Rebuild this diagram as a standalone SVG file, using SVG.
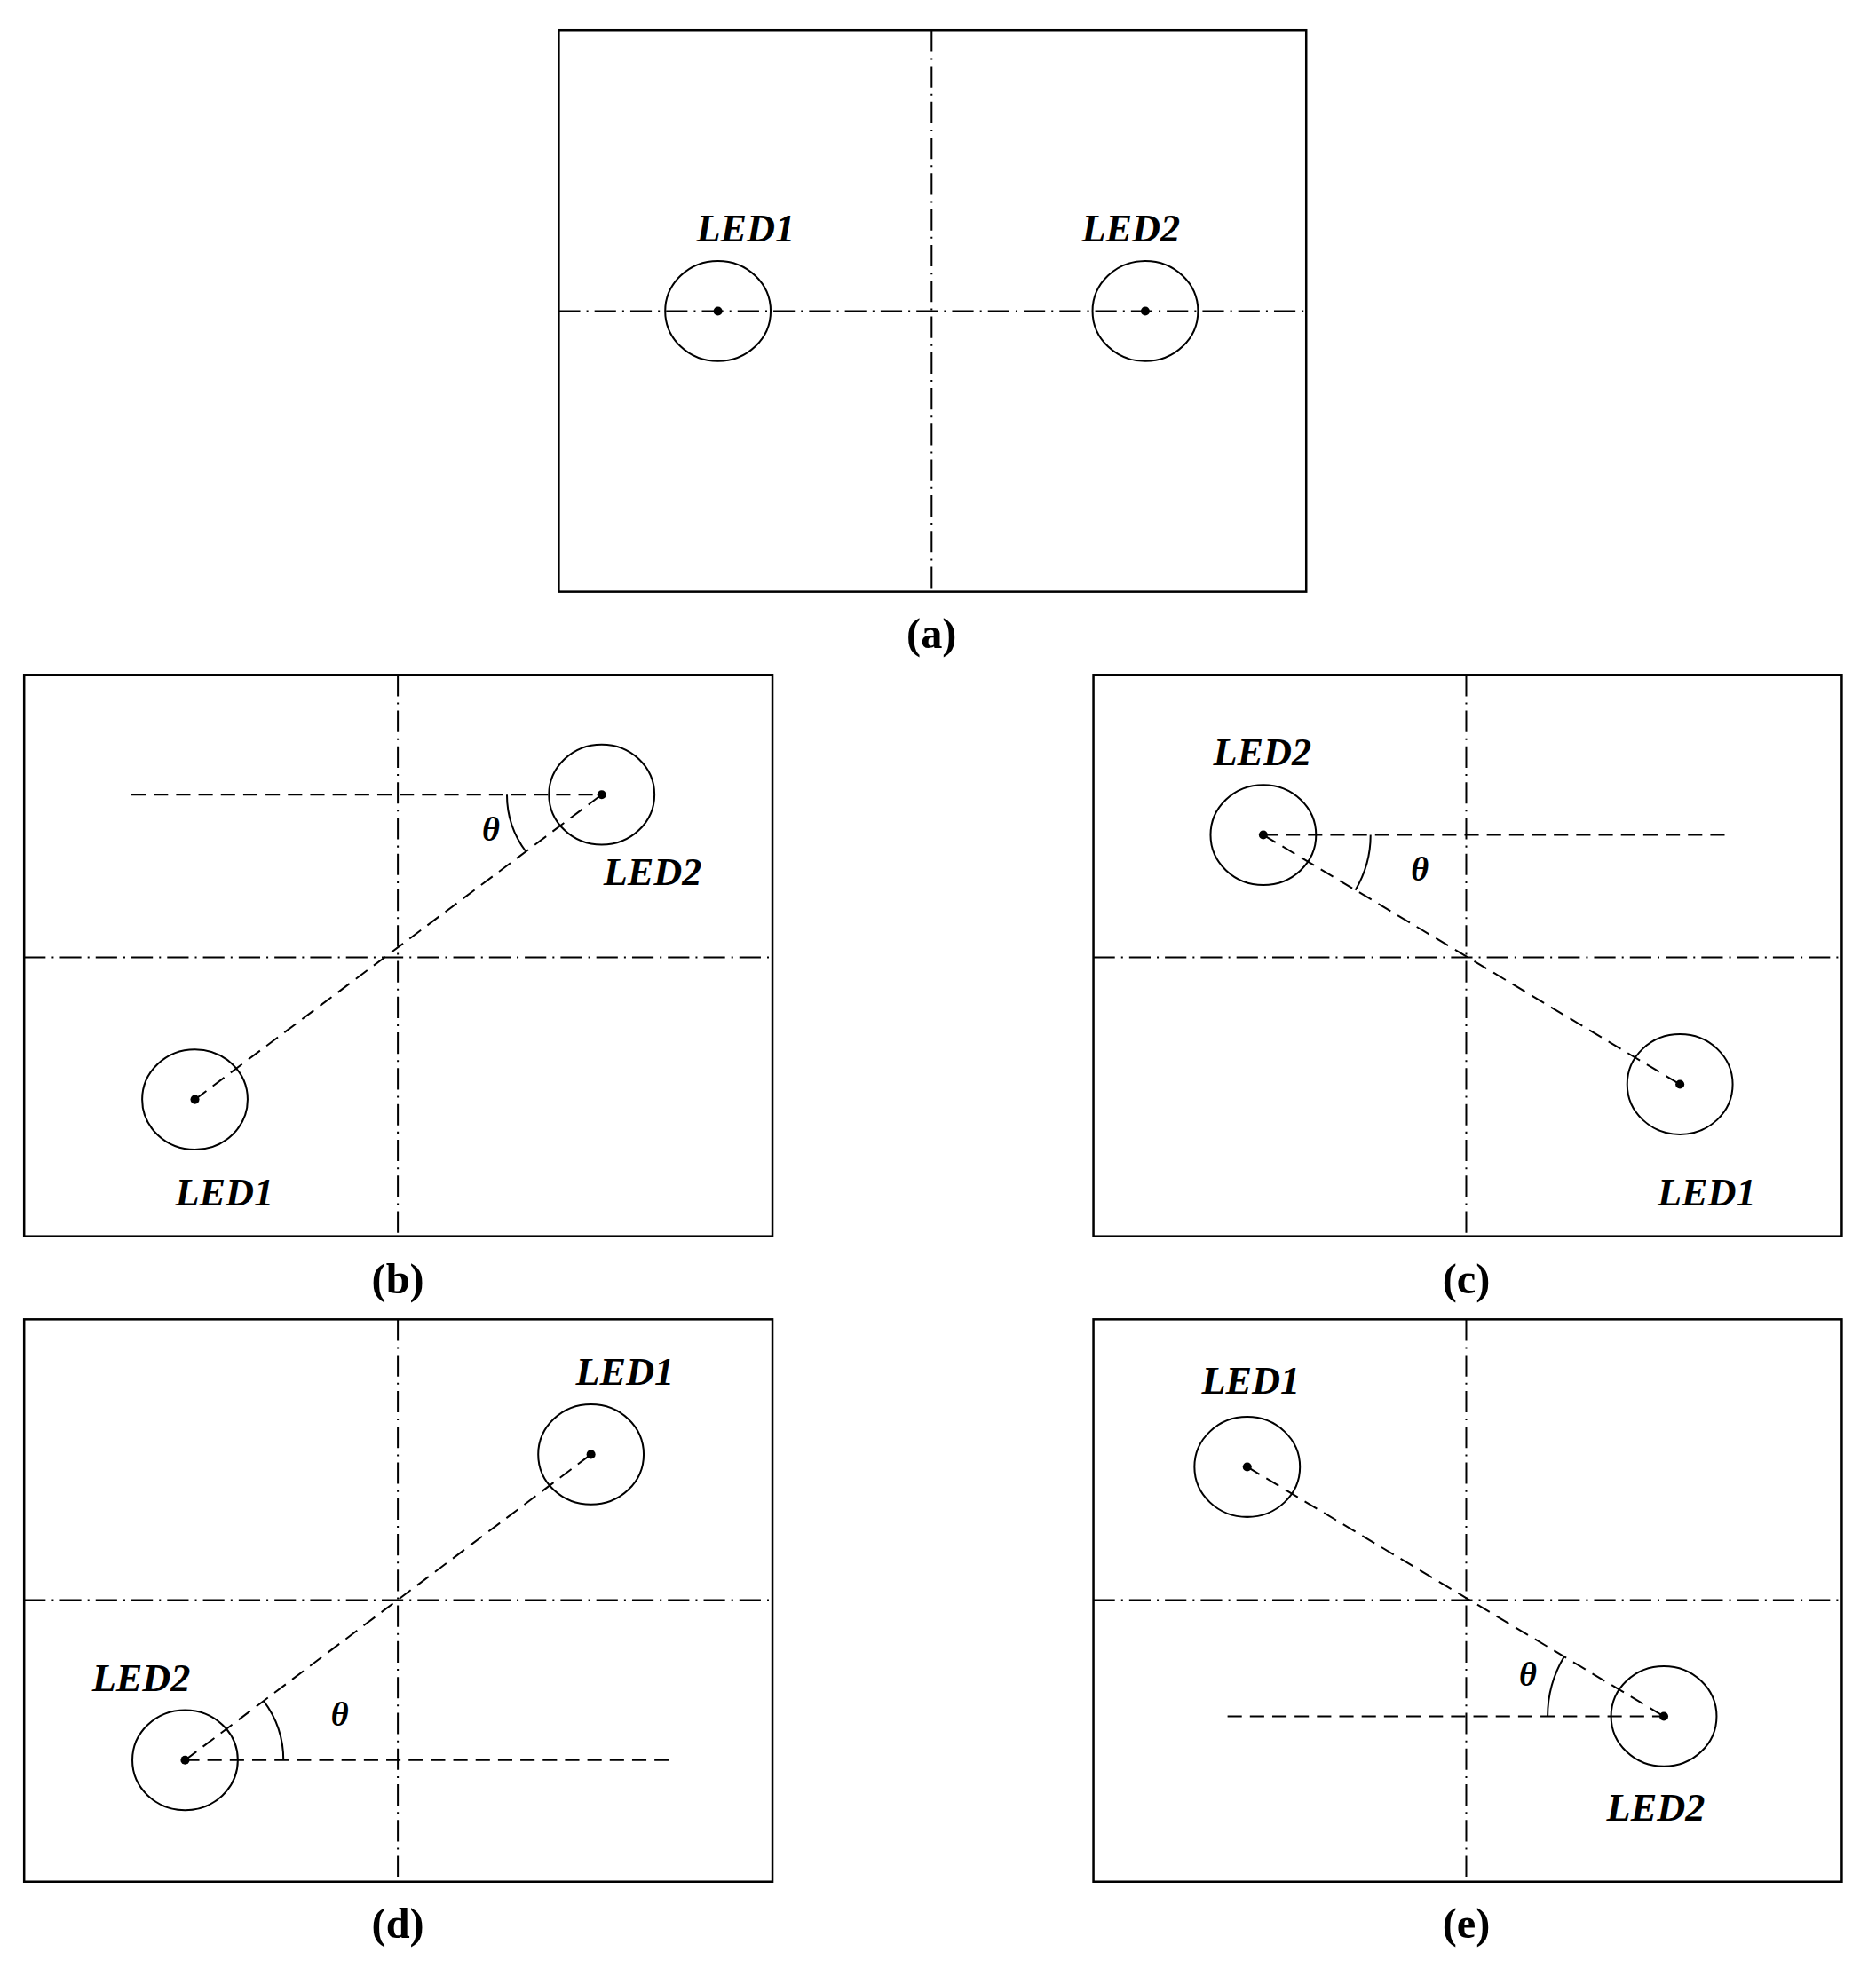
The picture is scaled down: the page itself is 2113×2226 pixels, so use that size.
<svg xmlns="http://www.w3.org/2000/svg" width="2113" height="2226" viewBox="0 0 2113 2226">
<style>
.frame{fill:none;stroke:#000;stroke-width:2.5}
.axis{fill:none;stroke:#000;stroke-width:2;stroke-dasharray:24 7 2 7}
.dash{fill:none;stroke:#000;stroke-width:2;stroke-dasharray:16 9}
.led{fill:none;stroke:#000;stroke-width:2}
.dot{fill:#000}
.arc{fill:none;stroke:#000;stroke-width:2}
.lbl{font-family:"Liberation Serif",serif;font-weight:bold;font-style:italic;font-size:44px;text-anchor:middle}
.th{font-family:"Liberation Serif",serif;font-weight:bold;font-style:italic;font-size:38px;text-anchor:middle}
.cap{font-family:"Liberation Serif",serif;font-weight:bold;font-size:48px;text-anchor:middle}
</style>
<rect width="2113" height="2226" fill="#fff"/>
<g transform="scale(1.007)">
<g id="panel-a">
<rect class="frame" x="625" y="34" width="836" height="628"/>
<line class="axis" x1="1042" y1="34" x2="1042" y2="662"/>
<line class="axis" x1="625" y1="348" x2="1461" y2="348"/>
<g id="a-led1"><ellipse class="led" cx="803" cy="348" rx="59" ry="56"/><circle class="dot" cx="803" cy="348" r="5"/><text class="lbl" x="834" y="270">LED1</text></g>
<g id="a-led2"><ellipse class="led" cx="1281" cy="348" rx="59" ry="56"/><circle class="dot" cx="1281" cy="348" r="5"/><text class="lbl" x="1265" y="270">LED2</text></g>
<text class="cap" x="1042" y="725">(a)</text>
</g>
<g id="panel-b">
<rect class="frame" x="27" y="755" width="837" height="628"/>
<line class="axis" x1="445" y1="755" x2="445" y2="1383"/>
<line class="axis" x1="27" y1="1071" x2="864" y2="1071"/>
<line class="dash" x1="147" y1="889" x2="673" y2="889"/>
<line class="dash" x1="218" y1="1230" x2="673" y2="889"/>
<path class="arc" d="M567,889 A106,106 0 0 0 588.2,952.6"/>
<text class="th" x="549" y="940">θ</text>
<g id="b-led2"><ellipse class="led" cx="673" cy="889" rx="59" ry="56"/><circle class="dot" cx="673" cy="889" r="5"/><text class="lbl" x="730" y="990">LED2</text></g>
<g id="b-led1"><ellipse class="led" cx="218" cy="1230" rx="59" ry="56"/><circle class="dot" cx="218" cy="1230" r="5"/><text class="lbl" x="251" y="1349">LED1</text></g>
<text class="cap" x="445" y="1447">(b)</text>
</g>
<g id="panel-c">
<rect class="frame" x="1223" y="755" width="837" height="628"/>
<line class="axis" x1="1640" y1="755" x2="1640" y2="1383"/>
<line class="axis" x1="1223" y1="1071" x2="2060" y2="1071"/>
<line class="dash" x1="1413" y1="934" x2="1930" y2="934"/>
<line class="dash" x1="1413" y1="934" x2="1879" y2="1213"/>
<path class="arc" d="M1533,934 A120,120 0 0 1 1516,995.7"/>
<text class="th" x="1588" y="985">θ</text>
<g id="c-led2"><ellipse class="led" cx="1413" cy="934" rx="59" ry="56"/><circle class="dot" cx="1413" cy="934" r="5"/><text class="lbl" x="1412" y="856">LED2</text></g>
<g id="c-led1"><ellipse class="led" cx="1879" cy="1213" rx="59" ry="56"/><circle class="dot" cx="1879" cy="1213" r="5"/><text class="lbl" x="1909" y="1349">LED1</text></g>
<text class="cap" x="1640" y="1447">(c)</text>
</g>
<g id="panel-d">
<rect class="frame" x="27" y="1476" width="837" height="629"/>
<line class="axis" x1="445" y1="1476" x2="445" y2="2105"/>
<line class="axis" x1="27" y1="1790" x2="864" y2="1790"/>
<line class="dash" x1="207" y1="1969" x2="754" y2="1969"/>
<line class="dash" x1="207" y1="1969" x2="661" y2="1627"/>
<path class="arc" d="M317,1969 A110,110 0 0 0 294.9,1902.8"/>
<text class="th" x="380" y="1930">θ</text>
<g id="d-led1"><ellipse class="led" cx="661" cy="1627" rx="59" ry="56"/><circle class="dot" cx="661" cy="1627" r="5"/><text class="lbl" x="699" y="1549">LED1</text></g>
<g id="d-led2"><ellipse class="led" cx="207" cy="1969" rx="59" ry="56"/><circle class="dot" cx="207" cy="1969" r="5"/><text class="lbl" x="158" y="1892">LED2</text></g>
<text class="cap" x="445" y="2168">(d)</text>
</g>
<g id="panel-e">
<rect class="frame" x="1223" y="1476" width="837" height="629"/>
<line class="axis" x1="1640" y1="1476" x2="1640" y2="2105"/>
<line class="axis" x1="1223" y1="1790" x2="2060" y2="1790"/>
<line class="dash" x1="1373" y1="1920" x2="1861" y2="1920"/>
<line class="dash" x1="1395" y1="1641" x2="1861" y2="1920"/>
<path class="arc" d="M1731,1920 A130,130 0 0 1 1749.5,1853.2"/>
<text class="th" x="1709" y="1886">θ</text>
<g id="e-led1"><ellipse class="led" cx="1395" cy="1641" rx="59" ry="56"/><circle class="dot" cx="1395" cy="1641" r="5"/><text class="lbl" x="1399" y="1559">LED1</text></g>
<g id="e-led2"><ellipse class="led" cx="1861" cy="1920" rx="59" ry="56"/><circle class="dot" cx="1861" cy="1920" r="5"/><text class="lbl" x="1852" y="2037">LED2</text></g>
<text class="cap" x="1640" y="2168">(e)</text>
</g>
</g>
</svg>
